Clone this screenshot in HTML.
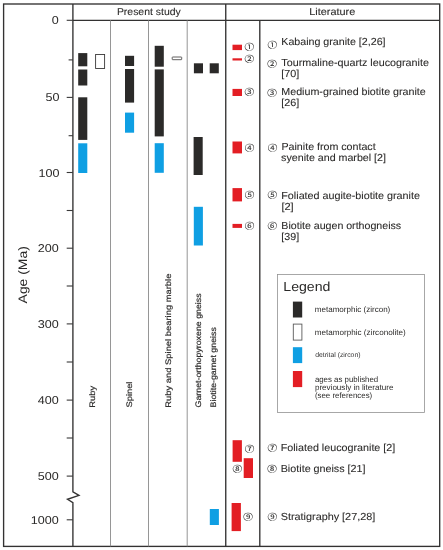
<!DOCTYPE html>
<html lang="en">
<head>
<meta charset="utf-8">
<title>Age (Ma) – Present study vs Literature</title>
<style>
  html, body { margin: 0; padding: 0; background: #ffffff; }
  body { width: 443px; height: 550px; overflow: hidden; }
  svg { display: block; }
  text { font-family: "Liberation Sans", "Noto Sans CJK SC", sans-serif; fill: #2b2a29; text-rendering: geometricPrecision; }
  .ln  { stroke: #333232; stroke-width: 1.35; fill: none; }
  .div { stroke: #8a8a8a; stroke-width: 0.9; fill: none; }
  .tk  { stroke: #3a3939; stroke-width: 1.1; fill: none; }
  .k   { fill: #2b2a29; }
  .b   { fill: #0f9fe3; }
  .r   { fill: #e31e24; }
  .w   { fill: #ffffff; stroke: #3a3939; stroke-width: 0.8; }
  .ax  { font-size: 11.4px; fill: #3d3c3c; text-anchor: end; }
  .hd  { font-size: 10px; fill: #2b2a29; stroke: #2b2a29; stroke-width: 0.08px; }
  .lit { font-size: 10.2px; fill: #2b2a29; word-spacing: -0.1px; stroke: #2b2a29; stroke-width: 0.08px; }
  .cn  { font-family: "Liberation Sans", "Noto Sans CJK SC", "Noto Sans CJK JP", "DejaVu Sans", sans-serif; font-weight: 400; font-size: 8.5px; fill: #3a3a3a; stroke: #3a3a3a; stroke-width: 0.12px; text-anchor: middle; }
  .col { font-size: 8px; fill: #333232; stroke: #333232; stroke-width: 0.2px; }
  .lg  { font-size: 8px; fill: #333232; }
  .lgs { font-size: 6.85px; fill: #333232; }
</style>
</head>
<body>
<svg width="443" height="550" viewBox="0 0 443 550">
  <rect x="0" y="0" width="443" height="550" fill="#ffffff"/>

  <rect class="ln" x="3.6" y="4.0" width="436.1" height="542.4"/>
  <line class="ln" x1="72.9" y1="20.3" x2="439.7" y2="20.3"/>
  <line class="ln" x1="225.75" y1="4.0" x2="225.75" y2="546.4"/>
  <line class="ln" x1="259.8" y1="20.3" x2="259.8" y2="546.4"/>
  <line class="div" x1="110.5" y1="20.3" x2="110.5" y2="546.4"/>
  <line class="div" x1="148.5" y1="20.3" x2="148.5" y2="546.4"/>
  <line class="div" x1="187.2" y1="20.3" x2="187.2" y2="546.4"/>
  <path class="ln" d="M72.9 4.0 V491.8 L79.0 495.4 L67.5 499.3 L72.9 502.7 V546.4"/>
  <g class="tk">
    <line x1="66.7" y1="20.3" x2="72.9" y2="20.3"/>
    <line x1="66.7" y1="97.4" x2="72.9" y2="97.4"/>
    <line x1="66.7" y1="172.5" x2="72.9" y2="172.5"/>
    <line x1="66.7" y1="248.2" x2="72.9" y2="248.2"/>
    <line x1="66.7" y1="323.9" x2="72.9" y2="323.9"/>
    <line x1="66.7" y1="400.1" x2="72.9" y2="400.1"/>
    <line x1="66.7" y1="476.1" x2="72.9" y2="476.1"/>
    <line x1="66.7" y1="519.8" x2="72.9" y2="519.8"/>
    <line x1="68.6" y1="59.9" x2="72.9" y2="59.9"/>
    <line x1="68.6" y1="135.7" x2="72.9" y2="135.7"/>
    <line x1="66.7" y1="210.5" x2="72.9" y2="210.5"/>
    <line x1="66.7" y1="286.0" x2="72.9" y2="286.0"/>
    <line x1="66.7" y1="362.0" x2="72.9" y2="362.0"/>
    <line x1="66.7" y1="438.0" x2="72.9" y2="438.0"/>
  </g>
  <g class="ax">
    <text x="58.7" y="24.3" textLength="7.0" lengthAdjust="spacingAndGlyphs">0</text>
    <text x="59.6" y="101.4" textLength="14.0" lengthAdjust="spacingAndGlyphs">50</text>
    <text x="59.6" y="176.5" textLength="21.0" lengthAdjust="spacingAndGlyphs">100</text>
    <text x="58.7" y="252.2" textLength="21.0" lengthAdjust="spacingAndGlyphs">200</text>
    <text x="58.7" y="327.9" textLength="21.0" lengthAdjust="spacingAndGlyphs">300</text>
    <text x="58.7" y="404.1" textLength="21.0" lengthAdjust="spacingAndGlyphs">400</text>
    <text x="58.7" y="480.1" textLength="21.0" lengthAdjust="spacingAndGlyphs">500</text>
    <text x="58.7" y="523.8" textLength="28.0" lengthAdjust="spacingAndGlyphs">1000</text>
  </g>
  <text transform="translate(26.5 303.4) rotate(-90)" textLength="57.2" lengthAdjust="spacingAndGlyphs" font-size="12.3" fill="#3a3939">Age (Ma)</text>
  <text class="hd" x="116.9" y="14.7" textLength="63.9" lengthAdjust="spacingAndGlyphs">Present study</text>
  <text class="hd" x="309.3" y="15.1" textLength="46.0" lengthAdjust="spacingAndGlyphs">Literature</text>

  <rect class="k" x="78.2" y="53.1" width="9.1" height="13.2"/>
  <rect class="k" x="78.2" y="69.5" width="9.1" height="16.0"/>
  <rect class="k" x="78.2" y="97.3" width="9.1" height="42.6"/>
  <rect class="b" x="78.2" y="143.3" width="9.1" height="29.7"/>
  <rect class="w" x="95.6" y="54.5" width="9.0" height="14.0" style="stroke-width:0.9"/>
  <rect class="k" x="125" y="55.8" width="9.1" height="10.2"/>
  <rect class="k" x="125" y="69" width="9.1" height="33.6"/>
  <rect class="b" x="125" y="112.6" width="9.1" height="20.1"/>
  <rect class="k" x="154.7" y="45.8" width="9.1" height="20.9"/>
  <rect class="k" x="154.7" y="69.4" width="9.1" height="67"/>
  <rect class="b" x="154.7" y="143.2" width="9.1" height="29.6"/>
  <rect class="w" x="172.2" y="57.0" width="9.5" height="2.7" rx="0.5"/>
  <rect class="k" x="193.9" y="63.3" width="9.1" height="10"/>
  <rect class="k" x="209.7" y="63.3" width="9.1" height="10"/>
  <rect class="k" x="193.6" y="137" width="9.1" height="38"/>
  <rect class="b" x="193.8" y="206.8" width="9.1" height="38.7"/>
  <rect class="b" x="209.8" y="509" width="9.1" height="16"/>

  <g class="col">
    <text transform="translate(95.3 407.7) rotate(-90)" textLength="21.8" lengthAdjust="spacingAndGlyphs">Ruby</text>
    <text transform="translate(131.5 407.5) rotate(-90)" textLength="25.9" lengthAdjust="spacingAndGlyphs">Spinel</text>
    <text transform="translate(171.3 407.7) rotate(-90)" textLength="134.1" lengthAdjust="spacingAndGlyphs">Ruby and Spinel bearing marble</text>
    <text transform="translate(201.3 407.4) rotate(-90)" textLength="114.0" lengthAdjust="spacingAndGlyphs">Garnet-orthopyroxene gneiss</text>
    <text transform="translate(216.4 407.4) rotate(-90)" textLength="80.2" lengthAdjust="spacingAndGlyphs">Biotite-garnet gneiss</text>
  </g>

  <rect class="r" x="232.5" y="44.7" width="9.5" height="5.4"/>
  <rect class="r" x="232.5" y="58.3" width="9.5" height="2.2"/>
  <rect class="r" x="232.5" y="88.9" width="9.5" height="7.1"/>
  <rect class="r" x="232.5" y="141.5" width="9.5" height="11.9"/>
  <rect class="r" x="232.5" y="188.1" width="9.5" height="13.3"/>
  <rect class="r" x="232.5" y="223.9" width="9.5" height="4.0"/>
  <rect class="r" x="232.6" y="440.2" width="9.3" height="21.6"/>
  <rect class="r" x="243.7" y="458.2" width="9.3" height="19.8"/>
  <rect class="r" x="231.6" y="503" width="9.3" height="28.1"/>

  <g class="cn">
    <text transform="translate(249.2 50.4) scale(1.13 1)">①</text>
    <text transform="translate(249.2 62.0) scale(1.13 1)">②</text>
    <text transform="translate(249.2 95.0) scale(1.13 1)">③</text>
    <text transform="translate(249.5 150.8) scale(1.13 1)">④</text>
    <text transform="translate(249.5 197.8) scale(1.13 1)">⑤</text>
    <text transform="translate(249.5 229.0) scale(1.13 1)">⑥</text>
    <text transform="translate(249.6 451.6) scale(1.13 1)">⑦</text>
    <text transform="translate(237.4 471.9) scale(1.13 1)">⑧</text>
    <text transform="translate(248.1 520.2) scale(1.13 1)">⑨</text>
    <text transform="translate(272.2 47.7) scale(1.13 1)">①</text>
    <text transform="translate(272.1 66.6) scale(1.13 1)">②</text>
    <text transform="translate(272.1 95.8) scale(1.13 1)">③</text>
    <text transform="translate(272.5 150.8) scale(1.13 1)">④</text>
    <text transform="translate(272.3 198.1) scale(1.13 1)">⑤</text>
    <text transform="translate(272.3 229.3) scale(1.13 1)">⑥</text>
    <text transform="translate(272.2 451.3) scale(1.13 1)">⑦</text>
    <text transform="translate(272.1 472.1) scale(1.13 1)">⑧</text>
    <text transform="translate(272.3 519.9) scale(1.13 1)">⑨</text>
  </g>
  <g class="lit">
    <text x="281.3" y="45.3" textLength="104.3" lengthAdjust="spacingAndGlyphs">Kabaing granite [2,26]</text>
    <text x="281.3" y="65.9" textLength="147.6" lengthAdjust="spacingAndGlyphs">Tourmaline-quartz leucogranite</text>
    <text x="281.3" y="77.2" textLength="18.0" lengthAdjust="spacingAndGlyphs">[70]</text>
    <text x="281.3" y="95.3" textLength="144.4" lengthAdjust="spacingAndGlyphs">Medium-grained biotite granite</text>
    <text x="281.3" y="105.9" textLength="18.0" lengthAdjust="spacingAndGlyphs">[26]</text>
    <text x="281.4" y="150.2" textLength="94.3" lengthAdjust="spacingAndGlyphs">Painite from contact</text>
    <text x="281.1" y="161.1" textLength="104.8" lengthAdjust="spacingAndGlyphs">syenite and marbel [2]</text>
    <text x="281.3" y="198.5" textLength="138.6" lengthAdjust="spacingAndGlyphs">Foliated augite-biotite granite</text>
    <text x="281.4" y="210.0" textLength="12.3" lengthAdjust="spacingAndGlyphs">[2]</text>
    <text x="281.3" y="229.2" textLength="119.9" lengthAdjust="spacingAndGlyphs">Biotite augen orthogneiss</text>
    <text x="281.3" y="240.2" textLength="17.9" lengthAdjust="spacingAndGlyphs">[39]</text>
    <text x="280.7" y="450.6" textLength="114.5" lengthAdjust="spacingAndGlyphs">Foliated leucogranite [2]</text>
    <text x="280.7" y="471.7" textLength="84.8" lengthAdjust="spacingAndGlyphs">Biotite gneiss [21]</text>
    <text x="280.7" y="520.3" textLength="94.6" lengthAdjust="spacingAndGlyphs">Stratigraphy [27,28]</text>
  </g>

  <rect x="277.5" y="274.5" width="147.0" height="137.9" fill="#ffffff" stroke="#929292" stroke-width="0.8"/>
  <rect class="k" x="292.9" y="301.6" width="9.3" height="15.9"/>
  <rect x="293.3" y="324.1" width="8.6" height="16.0" fill="#ffffff" stroke="#5a5a5a" stroke-width="0.9"/>
  <rect class="b" x="292.9" y="347.2" width="9.3" height="15.9"/>
  <rect class="r" x="292.9" y="371.0" width="9.3" height="16.1"/>

  <text x="283.3" y="291.0" textLength="47.1" lengthAdjust="spacingAndGlyphs" font-size="13.1" fill="#2b2a29">Legend</text>
  <g class="lg">
    <text x="314.8" y="311.6" textLength="75.5" lengthAdjust="spacingAndGlyphs">metamorphic (zircon)</text>
    <text x="314.8" y="334.6" textLength="90.9" lengthAdjust="spacingAndGlyphs">metamorphic (zirconolite)</text>
    <text class="lgs" x="315.2" y="356.6" textLength="45.3" lengthAdjust="spacingAndGlyphs">detrital (zircon)</text>
    <text x="314.9" y="381.6" textLength="63.3" lengthAdjust="spacingAndGlyphs">ages as published</text>
    <text x="314.9" y="389.9" textLength="78.5" lengthAdjust="spacingAndGlyphs">previously in literature</text>
    <text x="314.9" y="397.9" textLength="57.3" lengthAdjust="spacingAndGlyphs">(see references)</text>
  </g>
</svg>
</body>
</html>
